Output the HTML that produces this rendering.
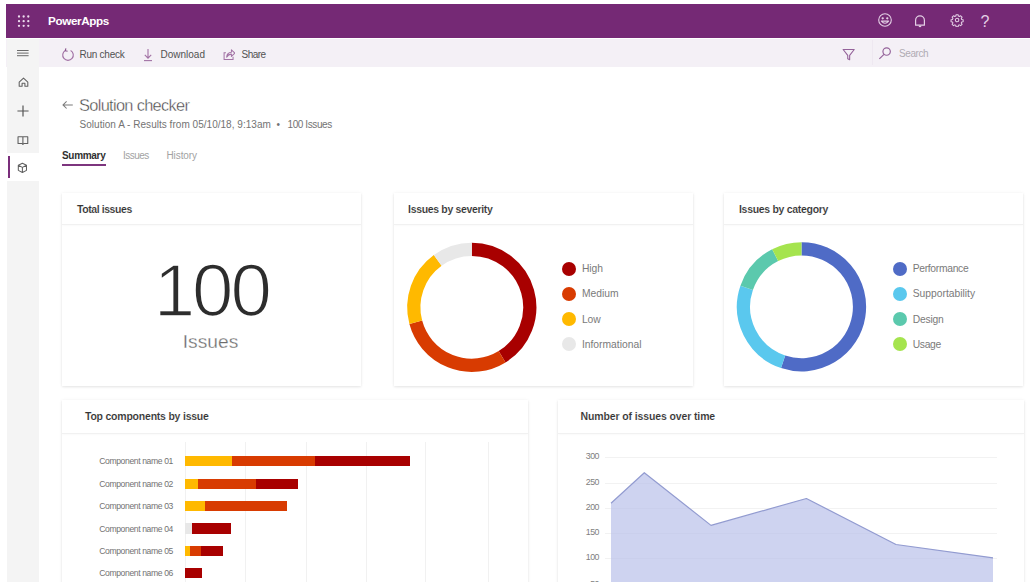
<!DOCTYPE html>
<html lang="en">
<head>
<meta charset="utf-8">
<title>PowerApps - Solution checker</title>
<style>
  html, body { margin: 0; padding: 0; }
  body {
    width: 1030px; height: 582px; overflow: hidden; position: relative;
    background: #ffffff;
    font-family: "Liberation Sans", sans-serif;
    color: #333;
  }
  .abs { position: absolute; }
  .t { position: absolute; white-space: nowrap; line-height: 1; }

  /* top bars */
  #topbar { left: 6.4px; top: 3.7px; width: 1024px; height: 34.8px; background: #752975; }
  #cmdbar { left: 6.4px; top: 38.5px; width: 1024px; height: 28.5px; background: #f4f0f6; }
  #sidebar { left: 6.5px; top: 38.5px; width: 32.3px; height: 544px; background: #f4f4f4; }
  #sideactive { left: 6.5px; top: 153px; width: 32.3px; height: 28px; background: #ffffff; }
  #sidemark { left: 8px; top: 156px; width: 2.4px; height: 22.3px; background: #7a2e7b; }

  .card {
    position: absolute; background: #fff;
    box-shadow: 0 1px 2.5px rgba(0,0,0,0.09), 0 0 4px rgba(0,0,0,0.04);
  }
  .card .hd {
    position: absolute; left: 0; right: 0; top: 0; height: 31.5px;
    border-bottom: 1px solid #f1f1f1;
    box-shadow: 0 1px 2px rgba(0,0,0,0.025);
  }
  .card .ttl {
    position: absolute; left: 15px; top: 11px; line-height: 1; white-space: nowrap;
    font-size: 10.5px; font-weight: bold; color: #353535; -webkit-text-stroke: 0.1px #fff;
  }
  .lg { position: absolute; white-space: nowrap; line-height: 1; font-size: 10.3px; color: #7a7a7a; }
  .cl { right: 355px; font-size: 8.6px; color: #727272; letter-spacing: -0.38px; }
  .yl { right: 425px; font-size: 8.8px; color: #808080; letter-spacing: -0.5px; }
  .dot { position: absolute; width: 14px; height: 14px; border-radius: 50%; }
</style>
</head>
<body>

<!-- ======= top bars ======= -->
<div class="abs" id="topbar"></div>
<div class="abs" id="cmdbar"></div>
<div class="abs" id="sidebar"></div>
<div class="abs" id="sideactive"></div>
<div class="abs" id="sidemark"></div>


<!-- waffle -->
<svg class="abs" style="left:17px;top:14px" width="14" height="14" viewBox="0 0 14 14"><g fill="#ecdcee"><circle cx="2.00" cy="2.50" r="1.15"/><circle cx="6.65" cy="2.50" r="1.15"/><circle cx="11.30" cy="2.50" r="1.15"/><circle cx="2.00" cy="7.15" r="1.15"/><circle cx="6.65" cy="7.15" r="1.15"/><circle cx="11.30" cy="7.15" r="1.15"/><circle cx="2.00" cy="11.80" r="1.15"/><circle cx="6.65" cy="11.80" r="1.15"/><circle cx="11.30" cy="11.80" r="1.15"/></g></svg>
<div class="t" style="left:48px;top:15px;font-size:11.7px;font-weight:bold;color:#fff;letter-spacing:-0.38px">PowerApps</div>

<!-- smiley -->
<svg class="abs" style="left:876.9px;top:12.4px" width="16" height="16" viewBox="0 0 16 16" fill="none" stroke="#e3cfe5" stroke-width="1.1">
  <circle cx="8" cy="8" r="6.3"/>
  <circle cx="5.7" cy="6.3" r="0.6" fill="#e3cfe5"/><circle cx="10.3" cy="6.3" r="0.6" fill="#e3cfe5"/>
  <path d="M4.4 9.1 Q8 13.4 11.6 9.1 Z" stroke-linejoin="round"/>
</svg>
<!-- bell -->
<svg class="abs" style="left:912px;top:13px" width="16" height="16" viewBox="0 0 16 16" fill="none" stroke="#e3cfe5" stroke-width="1.2">
  <path d="M3.6 12.2 V7.2 A4.4 4.4 0 0 1 12.4 7.2 V12.2 Z" stroke-linejoin="round"/>
  <path d="M6.8 13.4 H9.2" stroke-width="1.4"/>
</svg>
<!-- gear -->
<svg class="abs" style="left:950px;top:12.8px" width="14.2" height="14.2" viewBox="0 0 17 17" fill="none" stroke="#e3cfe5" stroke-width="1.25">
  <circle cx="8.5" cy="8.5" r="2.1"/>
  <path d="M7.3 2 h2.4 l.35 1.7 1.25 .55 1.45-.95 1.7 1.7-.95 1.45 .55 1.25 1.7 .35 v2.4 l-1.7 .35-.55 1.25 .95 1.45-1.7 1.7-1.45-.95-1.25 .55-.35 1.7 h-2.4 l-.35-1.7-1.25-.55-1.45 .95-1.7-1.7 .95-1.45-.55-1.25-1.7-.35 v-2.4 l1.7-.35 .55-1.25-.95-1.45 1.7-1.7 1.45 .95 1.25-.55z" stroke-linejoin="round"/>
</svg>
<div class="t" style="left:980.6px;top:14px;font-size:16px;color:#e3cfe5">?</div>

<!-- hamburger -->
<svg class="abs" style="left:17.3px;top:49px" width="12" height="9" viewBox="0 0 12 9"><g fill="#6a6a6a"><rect x="0" y="1" width="11.6" height="1"/><rect x="0" y="3.6" width="11.6" height="1"/><rect x="0" y="6.2" width="11.6" height="1"/></g></svg>

<!-- run check -->
<svg class="abs" style="left:60.6px;top:48.1px" width="14" height="14" viewBox="0 0 14 14" fill="none" stroke="#a272a5" stroke-width="1.15">
  <path d="M9.6 2.4 A5.3 5.3 0 1 1 4.4 2.4"/>
  <path d="M4.9 0.4 L4.3 2.7 L6.6 3.3" stroke="#8a568d" stroke-linejoin="round"/>
</svg>
<div class="t" style="left:79.5px;top:50.4px;font-size:10px;color:#525252;letter-spacing:-0.25px">Run check</div>
<!-- download -->
<svg class="abs" style="left:142.2px;top:47.7px" width="12" height="14" viewBox="0 0 12 14" fill="none" stroke="#a272a5" stroke-width="1.1">
  <path d="M6 1 V10 M2.8 6.9 L6 10.2 L9.2 6.9"/><path d="M2 12.6 H10"/>
</svg>
<div class="t" style="left:160.5px;top:50.4px;font-size:10px;color:#525252">Download</div>
<!-- share -->
<svg class="abs" style="left:222.5px;top:47.8px" width="12.8" height="12.8" viewBox="0 0 14 14" fill="none" stroke="#a272a5" stroke-width="1.1">
  <path d="M3.2 5.2 H1.2 V12.6 H11 V9.6"/>
  <path d="M4 10 C4.3 6.6 6.3 4.7 9.2 4.6 V2 L13 5.6 L9.2 9.2 V6.7 C7 6.7 5.3 7.7 4 10 Z" stroke-linejoin="round"/>
</svg>
<div class="t" style="left:241.5px;top:50.4px;font-size:10px;color:#525252;letter-spacing:-0.5px">Share</div>

<!-- filter -->
<svg class="abs" style="left:842.3px;top:48.3px" width="13.4" height="13.4" viewBox="0 0 14 14" fill="none" stroke="#94629a" stroke-width="1.15">
  <path d="M1.2 1.6 H12.8 L8 7.8 V12.2 L6 11.2 V7.8 Z" stroke-linejoin="round"/>
</svg>
<div class="abs" style="left:872px;top:40px;width:1px;height:25px;background:#eee8f1"></div>
<!-- search -->
<svg class="abs" style="left:877.9px;top:45.6px" width="14.4" height="14.4" viewBox="0 0 14 14" fill="none" stroke="#94629a" stroke-width="1.15">
  <circle cx="8.4" cy="5.4" r="3.6"/><path d="M5.8 8.1 L1.3 12.6"/>
</svg>
<div class="t" style="left:899px;top:49.4px;font-size:10px;color:#b0abb3;letter-spacing:-0.4px">Search</div>

<!-- sidebar icons -->
<svg class="abs" style="left:17.7px;top:77.2px" width="11" height="10.2" viewBox="0 0 14 13" fill="none" stroke="#606060" stroke-width="1.35">
  <path d="M1.5 6.6 L7 1.5 L12.5 6.6 V11.8 H8.8 V8 H5.2 V11.8 H1.5 Z" stroke-linejoin="round"/>
</svg>
<svg class="abs" style="left:16.8px;top:105.3px" width="12" height="12" viewBox="0 0 14 14" fill="none" stroke="#555" stroke-width="1.4">
  <path d="M7 0.5 V13.5 M0.5 7 H13.5"/>
</svg>
<svg class="abs" style="left:17.1px;top:134.6px" width="11.8" height="10.9" viewBox="0 0 14 13" fill="none" stroke="#606060" stroke-width="1.3">
  <path d="M1.2 2 H12.8 V10.2 H8.4 Q7 10.2 7 11.4 Q7 10.2 5.6 10.2 H1.2 Z M7 2 V11" stroke-linejoin="round"/>
</svg>
<svg class="abs" style="left:17.4px;top:162.4px" width="10.8" height="11.8" viewBox="0 0 14 14" fill="none" stroke="#606060" stroke-width="1.35">
  <path d="M7 1 L12.3 3.6 V10.2 L7 13 L1.7 10.2 V3.6 Z M1.7 3.6 L7 6.3 L12.3 3.6 M7 6.3 V13" stroke-linejoin="round"/>
</svg>

<!-- page heading -->
<svg class="abs" style="left:62px;top:100px" width="12" height="10" viewBox="0 0 12 10" fill="none" stroke="#7a7a7a" stroke-width="1.05"><path d="M1 4.9 H10.8 M4.6 1.3 L1 4.9 L4.6 8.5"/></svg>
<div class="t" style="left:79px;top:96.7px;font-size:16.4px;color:#404040;letter-spacing:-0.68px;-webkit-text-stroke:0.4px #fff">Solution checker</div>
<div class="t" style="left:79.5px;top:120.3px;font-size:10px;color:#737373;letter-spacing:0.03px">Solution A - Results from 05/10/18, 9:13am</div>
<div class="t" style="left:276.5px;top:120.3px;font-size:10px;color:#737373">&#8226;</div>
<div class="t" style="left:287.5px;top:120.3px;font-size:10px;color:#737373;letter-spacing:-0.4px">100 Issues</div>

<!-- tabs -->
<div class="t" style="left:62px;top:151.2px;font-size:10px;font-weight:bold;color:#303030;letter-spacing:-0.3px">Summary</div>
<div class="abs" style="left:62px;top:164.4px;width:44px;height:1.8px;background:#7d357e"></div>
<div class="t" style="left:123px;top:151.2px;font-size:10px;color:#a2a2a2;letter-spacing:-0.55px">Issues</div>
<div class="t" style="left:166.5px;top:151.2px;font-size:10px;color:#a2a2a2;letter-spacing:-0.1px">History</div>

<!-- ======= cards ======= -->
<!-- Card 1: Total issues -->
<div class="card" style="left:62.4px;top:192.5px;width:298.8px;height:193.5px">
  <div class="hd"></div>
  <div class="ttl" style="left:14.6px;letter-spacing:-0.42px">Total issues</div>
  <div class="t" style="left:91.4px;top:61.6px;font-size:74.5px;color:#2d2d2d;letter-spacing:-3.1px;-webkit-text-stroke:1.7px #fff">100</div>
  <div class="t" style="left:120.4px;top:139.5px;font-size:19.2px;color:#6c6c6c;-webkit-text-stroke:0.3px #fff">Issues</div>
</div>

<!-- Card 2: Issues by severity -->
<div class="card" style="left:393.5px;top:192.5px;width:299.5px;height:193.5px">
  <div class="hd"></div>
  <div class="ttl" style="left:14.6px;letter-spacing:-0.34px">Issues by severity</div>
  <svg class="abs" style="left:0;top:0" width="299" height="193" viewBox="0 0 299 193">
    <path d="M77.80 56.30 A58.0 58.0 0 0 1 108.10 163.75" stroke="#a80000" stroke-width="13.2" fill="none"/>
    <path d="M108.10 163.75 A58.0 58.0 0 0 1 21.78 129.31" stroke="#d83b01" stroke-width="13.2" fill="none"/>
    <path d="M21.78 129.31 A58.0 58.0 0 0 1 43.71 67.38" stroke="#ffb900" stroke-width="13.2" fill="none"/>
    <path d="M43.71 67.38 A58.0 58.0 0 0 1 77.80 56.30" stroke="#e8e8e8" stroke-width="13.2" fill="none"/>
  </svg>
  <div class="dot" style="left:168.9px;top:69px;background:#a80000"></div><div class="lg" style="left:188.4px;top:71.6px">High</div>
  <div class="dot" style="left:168.9px;top:94.3px;background:#d83b01"></div><div class="lg" style="left:188.4px;top:96.9px">Medium</div>
  <div class="dot" style="left:168.9px;top:119.6px;background:#ffb900"></div><div class="lg" style="left:188.4px;top:122.2px">Low</div>
  <div class="dot" style="left:168.9px;top:144.9px;background:#e8e8e8"></div><div class="lg" style="left:188.4px;top:147.5px">Informational</div>
</div>

<!-- Card 3: Issues by category -->
<div class="card" style="left:724px;top:192.5px;width:298.5px;height:193.5px">
  <div class="hd"></div>
  <div class="ttl" style="letter-spacing:-0.3px">Issues by category</div>
  <svg class="abs" style="left:0;top:0" width="298" height="193" viewBox="0 0 298 193">
    <path d="M77.50 55.80 A58.0 58.0 0 1 1 59.10 168.80" stroke="#4f6bc6" stroke-width="13.2" fill="none"/>
    <path d="M59.10 168.80 A58.0 58.0 0 0 1 22.66 94.92" stroke="#5ac8ee" stroke-width="13.2" fill="none"/>
    <path d="M22.66 94.92 A58.0 58.0 0 0 1 51.17 62.12" stroke="#5bc9ad" stroke-width="13.2" fill="none"/>
    <path d="M51.17 62.12 A58.0 58.0 0 0 1 77.50 55.80" stroke="#a5e44e" stroke-width="13.2" fill="none"/>
  </svg>
  <div class="dot" style="left:169px;top:69px;background:#4f6bc6"></div><div class="lg" style="left:188.7px;top:71.6px;letter-spacing:-0.3px">Performance</div>
  <div class="dot" style="left:169px;top:94.3px;background:#5ac8ee"></div><div class="lg" style="left:188.7px;top:96.9px">Supportability</div>
  <div class="dot" style="left:169px;top:119.6px;background:#5bc9ad"></div><div class="lg" style="left:188.7px;top:122.2px;letter-spacing:-0.2px">Design</div>
  <div class="dot" style="left:169px;top:144.9px;background:#a5e44e"></div><div class="lg" style="left:188.7px;top:147.5px;letter-spacing:-0.3px">Usage</div>
</div>

<!-- Card 4: Top components by issue -->
<div class="card" style="left:62.0px;top:400.0px;width:466px;height:200px">
  <div class="hd" style="height:33px"></div>
  <div class="ttl" style="left:23px;top:11px;letter-spacing:-0.22px">Top components by issue</div>
  <div class="abs" style="left:122.7px;top:42.4px;width:1px;height:160px;background:#f1f1f1"></div>
  <div class="abs" style="left:183.0px;top:42.4px;width:1px;height:160px;background:#f1f1f1"></div>
  <div class="abs" style="left:243.6px;top:42.4px;width:1px;height:160px;background:#f1f1f1"></div>
  <div class="abs" style="left:303.8px;top:42.4px;width:1px;height:160px;background:#f1f1f1"></div>
  <div class="abs" style="left:362.7px;top:42.4px;width:1px;height:160px;background:#f1f1f1"></div>
  <div class="abs" style="left:425.5px;top:42.4px;width:1px;height:160px;background:#f1f1f1"></div>
  <div class="t cl" style="top:57.4px">Component name 01</div>
  <div class="abs" style="left:123.2px;top:56.2px;width:46.5px;height:10.3px;background:#ffb900"></div>
  <div class="abs" style="left:169.7px;top:56.2px;width:83.5px;height:10.3px;background:#d83b01"></div>
  <div class="abs" style="left:253.2px;top:56.2px;width:95.2px;height:10.3px;background:#a80000"></div>
  <div class="t cl" style="top:79.8px">Component name 02</div>
  <div class="abs" style="left:123.2px;top:78.6px;width:12.8px;height:10.3px;background:#ffb900"></div>
  <div class="abs" style="left:136.0px;top:78.6px;width:57.5px;height:10.3px;background:#d83b01"></div>
  <div class="abs" style="left:193.5px;top:78.6px;width:42.0px;height:10.3px;background:#a80000"></div>
  <div class="t cl" style="top:102.2px">Component name 03</div>
  <div class="abs" style="left:123.2px;top:101.0px;width:19.6px;height:10.3px;background:#ffb900"></div>
  <div class="abs" style="left:142.8px;top:101.0px;width:82.2px;height:10.3px;background:#d83b01"></div>
  <div class="t cl" style="top:124.6px">Component name 04</div>
  <div class="abs" style="left:123.2px;top:123.4px;width:6.6px;height:10.3px;background:#e8e8e8"></div>
  <div class="abs" style="left:129.8px;top:123.4px;width:39.7px;height:10.3px;background:#a80000"></div>
  <div class="t cl" style="top:147.0px">Component name 05</div>
  <div class="abs" style="left:123.2px;top:145.8px;width:4.5px;height:10.3px;background:#ffb900"></div>
  <div class="abs" style="left:127.7px;top:145.8px;width:11.3px;height:10.3px;background:#d83b01"></div>
  <div class="abs" style="left:139.0px;top:145.8px;width:21.8px;height:10.3px;background:#a80000"></div>
  <div class="t cl" style="top:169.4px">Component name 06</div>
  <div class="abs" style="left:123.2px;top:168.2px;width:16.8px;height:10.3px;background:#a80000"></div>
</div>

<!-- Card 5: Number of issues over time -->
<div class="card" style="left:558.0px;top:400.0px;width:466px;height:200px">
  <div class="hd" style="height:33px"></div>
  <div class="ttl" style="left:22.5px;top:11px;letter-spacing:-0.12px">Number of issues over time</div>
  <div class="t yl" style="top:52.3px">300</div>
  <div class="abs" style="left:46.5px;top:57.4px;width:392.5px;height:1px;background:#f2f2f2"></div>
  <div class="t yl" style="top:77.7px">250</div>
  <div class="abs" style="left:46.5px;top:82.8px;width:392.5px;height:1px;background:#f2f2f2"></div>
  <div class="t yl" style="top:102.9px">200</div>
  <div class="abs" style="left:46.5px;top:108.0px;width:392.5px;height:1px;background:#f2f2f2"></div>
  <div class="t yl" style="top:128.0px">150</div>
  <div class="abs" style="left:46.5px;top:133.1px;width:392.5px;height:1px;background:#f2f2f2"></div>
  <div class="t yl" style="top:153.2px">100</div>
  <div class="abs" style="left:46.5px;top:158.3px;width:392.5px;height:1px;background:#f2f2f2"></div>
  <div class="t yl" style="top:179.6px">50</div>
  <div class="abs" style="left:46.5px;top:184.7px;width:392.5px;height:1px;background:#f2f2f2"></div>
  <svg class="abs" style="left:0;top:0" width="465" height="200" viewBox="0 0 465 200">
    <polygon points="53.0,103.2 86.3,72.7 153.0,125.4 248.4,98.5 338.0,144.5 435.0,157.8 435.0,200 53.0,200" fill="rgba(180,188,232,0.66)"/>
    <polyline points="53.0,103.2 86.3,72.7 153.0,125.4 248.4,98.5 338.0,144.5 435.0,157.8" fill="none" stroke="#929bd0" stroke-width="1.2" stroke-linejoin="round"/>
  </svg>
</div>

</body>
</html>
